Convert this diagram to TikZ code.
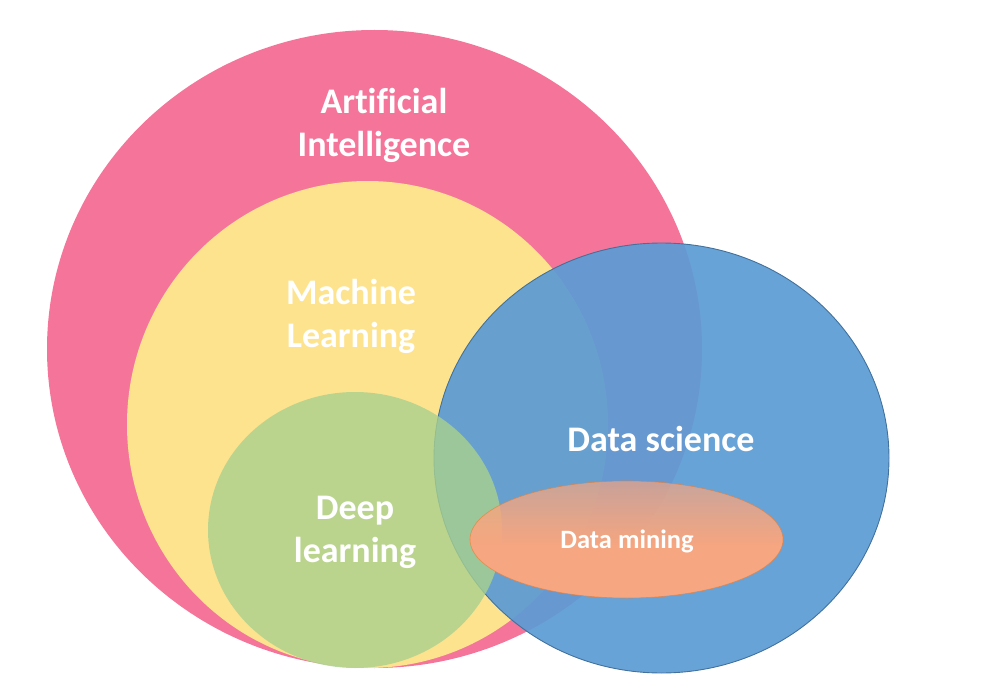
\documentclass[tikz,border=0pt]{standalone}
\usepackage{fontspec}
\setmainfont{Carlito}[Ligatures=NoCommon]
\definecolor{aipink}{RGB}{244,117,153}
\definecolor{mlyellow}{RGB}{254,227,143}
\definecolor{dlgreen}{RGB}{169,209,142}
\definecolor{dsblue}{RGB}{91,155,213}
\definecolor{dsedge}{RGB}{65,113,156}
\definecolor{dmorange}{RGB}{246,166,128}
\definecolor{dmedge}{RGB}{237,125,49}
\tikzset{
  biglbl/.style={text=white, align=center, inner sep=0pt, font=\bfseries\fontsize{36}{43}\selectfont},
  smalllbl/.style={text=white, inner sep=0pt, font=\bfseries\fontsize{26.5}{32}\selectfont},
}
\begin{document}
\begin{tikzpicture}[x=1pt,y=-1pt]
\useasboundingbox (0,0) rectangle (994,698);
% Artificial Intelligence
\fill[aipink] (374.5,349) ellipse [x radius=327.5, y radius=319];
% Machine Learning
\fill[mlyellow] (367.5,424.5) ellipse [x radius=240.5, y radius=243.5];
% Data science
\filldraw[fill=dsblue, fill opacity=0.92, draw=dsedge, line width=0.9pt] (661.5,458) ellipse [x radius=227.5, y radius=215];
% Deep learning
\fill[dlgreen, fill opacity=0.8] (355,530) ellipse [x radius=147, y radius=138];
% Data mining: opaque below, fading towards the top
\begin{scope}
  \clip (626.5,539.5) ellipse [x radius=156.5, y radius=58.5];
  \fill[dmorange] (460,545) rectangle (790,600);
  \foreach \i in {0,...,31} {
    \pgfmathsetmacro\op{0.68+0.32*(\i+0.5)/32}
    \fill[dmorange, fill opacity=\op] (460,{481+2*\i}) rectangle (790,{483+2*\i});
  }
\end{scope}
\draw[dmedge, draw opacity=0.7, line width=0.6pt] (626.5,539.5) ellipse [x radius=156.5, y radius=58.5];
% labels
\node[biglbl] (ai) at (384,125) {Artificial\\Intelligence};
\node[biglbl] (ml) at (351,316) {Machine\\Learning};
\node[biglbl] (dl) at (355,532) {Deep\\learning};
\node[biglbl, anchor=base] (ds) at (661,451) {Data science};
\node[smalllbl, anchor=base] (dm) at (627,548) {Data mining};
\end{tikzpicture}
\end{document}
